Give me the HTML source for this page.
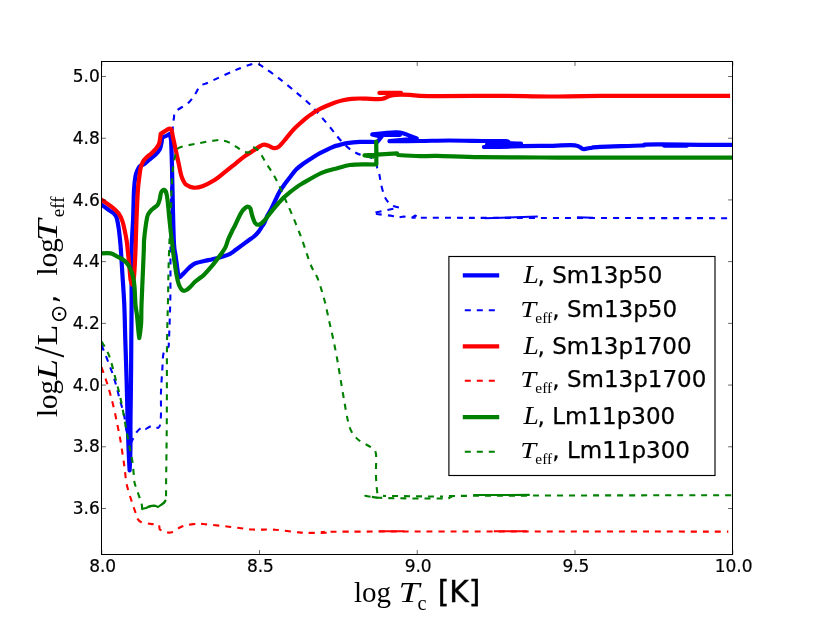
<!DOCTYPE html>
<html><head><meta charset="utf-8"><title>plot</title><style>html,body{margin:0;padding:0;background:#fff;}svg{display:block;}</style></head><body>
<svg width="814" height="617" viewBox="0 0 814 617">
<rect width="814" height="617" fill="#fff"/>
<defs><clipPath id="ax"><rect x="101.5" y="61.5" width="631.0" height="493.0"/></clipPath></defs>
<g clip-path="url(#ax)" fill="none" stroke-linejoin="round">
<path d="M101.50,204.60C101.50,204.60 104.78,207.05 106.80,208.50C108.82,209.95 111.98,211.85 113.60,213.30C115.22,214.75 115.68,214.92 116.50,217.20C117.32,219.48 117.93,223.43 118.50,227.00C119.07,230.57 119.50,234.77 119.90,238.60C120.30,242.43 120.48,244.07 120.90,250.00C121.32,255.93 121.83,265.03 122.40,274.20C122.97,283.37 123.82,294.03 124.30,305.00C124.78,315.97 124.92,327.50 125.30,340.00C125.68,352.50 126.22,366.67 126.60,380.00C126.98,393.33 127.27,408.33 127.60,420.00C127.93,431.67 128.27,441.58 128.60,450.00C128.93,458.42 129.60,470.50 129.60,470.50C129.60,470.50 130.25,458.42 130.40,450.00C130.55,441.58 130.40,431.67 130.50,420.00C130.60,408.33 130.87,393.33 131.00,380.00C131.13,366.67 131.20,352.50 131.30,340.00C131.40,327.50 131.55,320.00 131.60,305.00C131.65,290.00 131.35,264.30 131.60,250.00C131.85,235.70 132.70,229.20 133.10,219.20C133.50,209.20 133.60,197.20 134.00,190.00C134.40,182.80 134.92,179.33 135.50,176.00C136.08,172.67 136.75,171.67 137.50,170.00C138.25,168.33 139.00,166.92 140.00,166.00C141.00,165.08 142.00,165.50 143.50,164.50C145.00,163.50 147.03,161.62 149.00,160.00C150.97,158.38 153.50,156.57 155.30,154.80C157.10,153.03 158.75,151.48 159.80,149.40C160.85,147.32 161.17,144.23 161.60,142.30C162.03,140.37 161.67,138.85 162.40,137.80C163.13,136.75 164.82,136.63 166.00,136.00C167.18,135.37 169.50,134.00 169.50,134.00C169.50,134.00 170.62,135.67 171.00,140.00C171.38,144.33 171.58,153.33 171.80,160.00C172.02,166.67 171.97,166.67 172.30,180.00C172.63,193.33 173.27,227.50 173.80,240.00C174.33,252.50 174.97,250.67 175.50,255.00C176.03,259.33 176.53,262.58 177.00,266.00C177.47,269.42 177.88,273.62 178.30,275.50C178.72,277.38 178.97,277.30 179.50,277.30C180.03,277.30 180.75,276.22 181.50,275.50C182.25,274.78 182.90,274.13 184.00,273.00C185.10,271.87 186.73,269.98 188.10,268.70C189.47,267.42 190.85,266.25 192.20,265.30C193.55,264.35 194.18,263.72 196.20,263.00C198.22,262.28 201.60,261.63 204.30,261.00C207.00,260.37 209.70,259.83 212.40,259.20C215.10,258.57 217.57,258.10 220.50,257.20C223.43,256.30 227.38,255.08 230.00,253.80C232.62,252.52 233.18,251.67 236.20,249.50C239.22,247.33 245.13,242.97 248.10,240.80C251.07,238.63 252.27,237.98 254.00,236.50C255.73,235.02 257.27,233.43 258.50,231.90C259.73,230.37 260.42,228.82 261.40,227.30C262.38,225.78 263.38,224.77 264.40,222.80C265.42,220.83 266.28,217.97 267.50,215.50C268.72,213.03 269.80,211.75 271.70,208.00C273.60,204.25 276.88,196.75 278.90,193.00C280.92,189.25 281.85,188.25 283.80,185.50C285.75,182.75 288.60,179.10 290.60,176.50C292.60,173.90 294.28,171.57 295.80,169.90C297.32,168.23 298.28,167.65 299.70,166.50C301.12,165.35 302.18,164.47 304.30,163.00C306.42,161.53 309.78,159.33 312.40,157.70C315.02,156.07 316.50,155.03 320.00,153.20C323.50,151.37 330.07,148.08 333.40,146.70C336.73,145.32 337.73,145.50 340.00,144.90C342.27,144.30 343.67,143.60 347.00,143.10C350.33,142.60 355.43,142.08 360.00,141.90C364.57,141.72 371.52,141.98 374.40,142.00C377.28,142.02 377.30,142.00 377.30,142.00C377.30,142.00 381.50,136.80 381.50,136.80C381.50,136.80 372.30,134.40 372.30,134.40C372.30,134.40 389.88,132.60 395.00,132.40C400.12,132.20 399.38,132.18 403.00,133.20C406.62,134.22 416.70,138.50 416.70,138.50C416.70,138.50 389.50,141.20 389.50,141.20C389.50,141.20 410.08,141.12 420.00,141.00C429.92,140.88 438.33,140.50 449.00,140.50C459.67,140.50 474.50,140.88 484.00,141.00C493.50,141.12 501.67,140.87 506.00,141.20C510.33,141.53 507.50,142.62 510.00,143.00C512.50,143.38 521.00,143.50 521.00,143.50C521.00,143.50 484.00,147.00 484.00,147.00C484.00,147.00 493.67,146.93 500.00,146.80C506.33,146.67 515.33,146.35 522.00,146.20C528.67,146.05 535.33,145.97 540.00,145.90C544.67,145.83 544.17,145.90 550.00,145.80C555.83,145.70 569.50,144.77 575.00,145.30C580.50,145.83 580.50,148.55 583.00,149.00C585.50,149.45 587.17,148.35 590.00,148.00C592.83,147.65 591.50,147.32 600.00,146.90C608.50,146.48 633.50,145.88 641.00,145.50C648.50,145.12 641.83,144.78 645.00,144.60C648.17,144.42 650.83,144.37 660.00,144.40C669.17,144.43 687.67,144.73 700.00,144.80C712.33,144.87 734.00,144.80 734.00,144.80" stroke="#0000ff" stroke-width="4.2" stroke-linecap="square"/>
<path d="M101.50,345.00C101.50,345.00 103.25,349.47 104.30,352.10C105.35,354.73 106.13,356.33 107.80,360.80C109.47,365.27 112.35,372.63 114.30,378.90C116.25,385.17 117.87,392.30 119.50,398.40C121.13,404.50 122.90,409.83 124.10,415.50C125.30,421.17 125.80,427.32 126.70,432.40C127.60,437.48 129.50,446.00 129.50,446.00C129.50,446.00 133.10,438.50 133.10,438.50C133.10,438.50 134.88,434.28 136.40,432.40C137.92,430.52 140.70,427.75 142.20,427.20C143.70,426.65 143.78,429.32 145.40,429.10C147.02,428.88 149.73,426.12 151.90,425.90C154.07,425.68 157.00,428.23 158.40,427.80C159.80,427.37 159.87,425.77 160.30,423.30C160.73,420.83 160.88,418.23 161.00,413.00C161.12,407.77 160.78,399.10 161.00,391.90C161.22,384.70 161.87,376.28 162.30,369.80C162.73,363.32 162.53,356.88 163.60,353.00C164.67,349.12 168.70,346.50 168.70,346.50C168.70,346.50 170.00,316.08 170.30,300.00C170.60,283.92 170.38,266.67 170.50,250.00C170.62,233.33 170.75,215.00 171.00,200.00C171.25,185.00 171.75,170.83 172.00,160.00C172.25,149.17 172.33,140.83 172.50,135.00C172.67,129.17 172.77,127.80 173.00,125.00C173.23,122.20 173.42,120.47 173.90,118.20C174.38,115.93 173.47,113.98 175.90,111.40C178.33,108.82 185.27,105.62 188.50,102.70C191.73,99.78 193.35,96.67 195.30,93.90C197.25,91.13 197.92,88.05 200.20,86.10C202.48,84.15 203.65,84.63 209.00,82.20C214.35,79.77 226.82,73.93 232.30,71.50C237.78,69.07 239.00,68.73 241.90,67.60C244.80,66.47 247.10,65.33 249.70,64.70C252.30,64.07 254.90,63.15 257.50,63.80C260.10,64.45 261.73,66.18 265.30,68.60C268.87,71.02 274.03,74.57 278.90,78.30C283.77,82.03 289.97,87.27 294.50,91.00C299.03,94.73 302.87,97.78 306.10,100.70C309.33,103.62 311.30,105.73 313.90,108.50C316.50,111.27 318.78,113.90 321.70,117.30C324.62,120.70 328.48,125.33 331.40,128.90C334.32,132.47 336.27,135.45 339.20,138.70C342.13,141.95 346.08,145.98 349.00,148.40C351.92,150.82 354.35,152.00 356.70,153.20C359.05,154.40 360.55,154.80 363.10,155.60C365.65,156.40 369.85,156.93 372.00,158.00C374.15,159.07 375.12,160.28 376.00,162.00C376.88,163.72 376.75,166.27 377.30,168.30C377.85,170.33 378.65,171.43 379.30,174.20C379.95,176.97 380.30,181.15 381.20,184.90C382.10,188.65 383.47,193.75 384.70,196.70C385.93,199.65 387.13,201.05 388.60,202.60C390.07,204.15 391.77,205.18 393.50,206.00C395.23,206.82 399.00,207.50 399.00,207.50C399.00,207.50 372.90,213.00 372.90,213.00C372.90,213.00 376.73,213.90 380.00,214.40C383.27,214.90 389.50,215.48 392.50,216.00C395.50,216.52 398.00,217.50 398.00,217.50C398.00,217.50 404.00,216.50 404.00,216.50C404.00,216.50 412.00,217.50 412.00,217.50C412.00,217.50 415.00,215.50 415.00,215.50C415.00,215.50 419.00,217.60 419.00,217.60C419.00,217.60 392.50,217.70 445.00,217.80C497.50,217.90 734.00,218.20 734.00,218.20" stroke="#0000ff" stroke-width="2.1" stroke-dasharray="6,6"/>
<path d="M101.50,199.70C101.50,199.70 103.95,201.30 105.80,202.60C107.65,203.90 110.48,205.72 112.60,207.50C114.72,209.28 116.87,211.03 118.50,213.30C120.13,215.57 121.35,218.17 122.40,221.10C123.45,224.03 124.07,227.48 124.80,230.90C125.53,234.32 126.32,238.42 126.80,241.60C127.28,244.78 127.30,246.18 127.70,250.00C128.10,253.82 128.72,259.50 129.20,264.50C129.68,269.50 130.10,276.67 130.60,280.00C131.10,283.33 132.20,284.50 132.20,284.50C132.20,284.50 133.22,282.42 133.60,280.00C133.98,277.58 134.18,275.00 134.50,270.00C134.82,265.00 135.17,258.47 135.50,250.00C135.83,241.53 136.10,229.20 136.50,219.20C136.90,209.20 137.45,196.87 137.90,190.00C138.35,183.13 138.75,181.65 139.20,178.00C139.65,174.35 140.00,170.78 140.60,168.10C141.20,165.42 141.83,163.68 142.80,161.90C143.77,160.12 145.05,158.73 146.40,157.40C147.75,156.07 149.42,155.23 150.90,153.90C152.38,152.57 153.97,151.03 155.30,149.40C156.63,147.77 158.08,146.03 158.90,144.10C159.72,142.17 159.90,139.52 160.20,137.80C160.50,136.08 160.70,133.80 160.70,133.80C160.70,133.80 162.87,132.42 164.20,131.60C165.53,130.78 167.50,129.20 168.70,128.90C169.90,128.60 170.67,128.32 171.40,129.80C172.13,131.28 172.37,134.38 173.10,137.80C173.83,141.22 174.90,146.13 175.80,150.30C176.70,154.47 177.62,158.68 178.50,162.80C179.38,166.92 180.27,171.97 181.10,175.00C181.93,178.03 182.65,179.38 183.50,181.00C184.35,182.62 184.52,183.58 186.20,184.70C187.88,185.82 190.90,187.45 193.60,187.70C196.30,187.95 198.97,187.43 202.40,186.20C205.83,184.97 210.47,182.63 214.20,180.30C217.93,177.97 221.38,174.87 224.80,172.20C228.22,169.53 231.42,166.93 234.70,164.30C237.98,161.67 241.23,158.77 244.50,156.40C247.77,154.03 251.68,151.82 254.30,150.10C256.92,148.38 258.57,147.00 260.20,146.10C261.83,145.20 262.78,144.78 264.10,144.70C265.42,144.62 266.45,145.03 268.10,145.60C269.75,146.17 272.20,147.93 274.00,148.10C275.80,148.27 276.93,148.15 278.90,146.60C280.87,145.05 283.85,141.10 285.80,138.80C287.75,136.50 288.98,134.68 290.60,132.80C292.22,130.92 293.93,129.07 295.50,127.50C297.07,125.93 298.53,124.72 300.00,123.40C301.47,122.08 302.87,120.82 304.30,119.60C305.73,118.38 307.17,117.17 308.60,116.10C310.03,115.03 311.47,114.13 312.90,113.20C314.33,112.27 315.77,111.33 317.20,110.50C318.63,109.67 320.07,108.92 321.50,108.20C322.93,107.48 323.65,107.12 325.80,106.20C327.95,105.28 331.53,103.68 334.40,102.70C337.27,101.72 340.13,100.95 343.00,100.30C345.87,99.65 348.77,99.10 351.60,98.80C354.43,98.50 357.52,98.52 360.00,98.50C362.48,98.48 362.92,98.62 366.50,98.70C370.08,98.78 377.67,99.45 381.50,99.00C385.33,98.55 387.08,96.70 389.50,96.00C391.92,95.30 392.58,94.98 396.00,94.80C399.42,94.62 406.00,94.73 410.00,94.90C414.00,95.07 415.00,95.60 420.00,95.80C425.00,96.00 426.83,96.10 440.00,96.10C453.17,96.10 480.67,95.73 499.00,95.80C517.33,95.87 533.17,96.48 550.00,96.50C566.83,96.52 570.33,96.00 600.00,95.90C629.67,95.80 728.00,95.90 728.00,95.90" stroke="#ff0000" stroke-width="4.2" stroke-linecap="square"/>
<path d="M101.50,367.20C101.50,367.20 105.02,376.95 106.50,381.50C107.98,386.05 109.10,389.75 110.40,394.50C111.70,399.25 113.10,404.77 114.30,410.00C115.50,415.23 116.62,421.08 117.60,425.90C118.58,430.72 119.33,433.93 120.20,438.90C121.07,443.87 122.05,450.73 122.80,455.70C123.55,460.67 124.07,464.00 124.70,468.70C125.33,473.40 125.53,478.77 126.60,483.90C127.67,489.03 129.70,494.97 131.10,499.50C132.50,504.03 133.92,507.87 135.00,511.10C136.08,514.33 136.52,517.05 137.60,518.90C138.68,520.75 139.12,521.33 141.50,522.20C143.88,523.07 148.98,523.68 151.90,524.10C154.82,524.52 159.00,524.70 159.00,524.70C159.00,524.70 159.70,529.30 159.70,529.30C159.70,529.30 163.07,531.37 164.90,531.90C166.73,532.43 168.98,532.72 170.70,532.50C172.42,532.28 173.58,531.47 175.20,530.60C176.82,529.73 178.67,528.17 180.40,527.30C182.13,526.43 183.43,525.93 185.60,525.40C187.77,524.87 190.47,524.33 193.40,524.10C196.33,523.87 197.32,523.57 203.20,524.00C209.08,524.43 220.45,525.78 228.70,526.70C236.95,527.62 244.97,529.00 252.70,529.50C260.43,530.00 267.38,529.22 275.10,529.70C282.82,530.18 292.88,531.87 299.00,532.40C305.12,532.93 307.00,532.85 311.80,532.90C316.60,532.95 319.77,532.92 327.80,532.70C335.83,532.48 293.25,531.78 360.00,531.60C426.75,531.42 728.30,531.60 728.30,531.60" stroke="#ff0000" stroke-width="2.1" stroke-dasharray="6,6"/>
<polyline points="379.4,92.9 401.0,92.8" stroke="#ff0000" stroke-width="4.2" stroke-linecap="round"/>
<polyline points="487.0,144.6 519.0,144.8" stroke="#0000ff" stroke-width="4.2" stroke-linecap="round"/>
<polyline points="384.0,134.8 400.0,134.8" stroke="#0000ff" stroke-width="4.2" stroke-linecap="round"/>
<polyline points="664.0,145.6 687.0,145.6" stroke="#0000ff" stroke-width="4.2" stroke-linecap="round"/>
<polyline points="485.0,218.3 537.8,216.5" stroke="#0000ff" stroke-width="2.1"/>
<polyline points="577.0,217.2 593.0,217.8" stroke="#0000ff" stroke-width="2.1"/>
<polyline points="378.8,531.3 404.2,531.3" stroke="#ff0000" stroke-width="2.1"/>
<polyline points="493.8,531.3 527.0,531.3" stroke="#ff0000" stroke-width="2.1"/>
<path d="M101.50,253.30C101.50,253.30 108.52,252.98 110.70,253.30C112.88,253.62 112.82,254.32 114.60,255.20C116.38,256.08 119.45,257.38 121.40,258.60C123.35,259.82 124.83,260.88 126.30,262.50C127.77,264.12 129.07,265.87 130.20,268.30C131.33,270.73 132.38,274.02 133.10,277.10C133.82,280.18 134.10,282.15 134.50,286.80C134.90,291.45 135.08,300.23 135.50,305.00C135.92,309.77 136.50,310.90 137.00,315.40C137.50,319.90 138.12,328.23 138.50,332.00C138.88,335.77 139.30,338.00 139.30,338.00C139.30,338.00 139.88,334.68 140.20,332.00C140.52,329.32 140.98,326.40 141.20,321.90C141.42,317.40 141.23,312.95 141.50,305.00C141.77,297.05 142.42,283.37 142.80,274.20C143.18,265.03 143.58,255.70 143.80,250.00C144.02,244.30 143.80,243.88 144.10,240.00C144.40,236.12 145.03,230.70 145.60,226.70C146.17,222.70 146.70,218.60 147.50,216.00C148.30,213.40 149.27,212.48 150.40,211.10C151.53,209.72 153.08,208.75 154.30,207.70C155.52,206.65 156.80,206.17 157.70,204.80C158.60,203.43 159.13,201.55 159.70,199.50C160.27,197.45 160.38,194.12 161.10,192.50C161.82,190.88 163.18,189.88 164.00,189.80C164.82,189.72 165.42,190.38 166.00,192.00C166.58,193.62 167.02,195.83 167.50,199.50C167.98,203.17 168.42,209.15 168.90,214.00C169.38,218.85 169.92,224.27 170.40,228.60C170.88,232.93 171.28,235.60 171.80,240.00C172.32,244.40 172.97,250.83 173.50,255.00C174.03,259.17 174.52,261.77 175.00,265.00C175.48,268.23 175.78,271.20 176.40,274.40C177.02,277.60 177.93,281.80 178.70,284.20C179.47,286.60 180.20,287.70 181.00,288.80C181.80,289.90 182.58,290.60 183.50,290.80C184.42,291.00 185.43,290.60 186.50,290.00C187.57,289.40 188.48,288.57 189.90,287.20C191.32,285.83 193.43,283.25 195.00,281.80C196.57,280.35 197.75,279.73 199.30,278.50C200.85,277.27 202.12,276.58 204.30,274.40C206.48,272.22 209.70,268.68 212.40,265.40C215.10,262.12 218.33,257.70 220.50,254.70C222.67,251.70 224.15,249.85 225.40,247.40C226.65,244.95 226.92,242.65 228.00,240.00C229.08,237.35 230.73,233.92 231.90,231.50C233.07,229.08 233.70,228.17 235.00,225.50C236.30,222.83 238.45,217.95 239.70,215.50C240.95,213.05 241.65,212.00 242.50,210.80C243.35,209.60 243.97,209.00 244.80,208.30C245.63,207.60 246.58,206.60 247.50,206.60C248.42,206.60 249.50,206.73 250.30,208.30C251.10,209.87 251.47,213.50 252.30,216.00C253.13,218.50 254.15,221.87 255.30,223.30C256.45,224.73 257.75,224.98 259.20,224.60C260.65,224.22 261.57,223.67 264.00,221.00C266.43,218.33 270.55,212.47 273.80,208.60C277.05,204.73 280.80,200.53 283.50,197.80C286.20,195.07 288.08,193.77 290.00,192.20C291.92,190.63 292.95,189.85 295.00,188.40C297.05,186.95 297.85,186.10 302.30,183.50C306.75,180.90 315.87,175.35 321.70,172.80C327.53,170.25 332.62,169.50 337.30,168.20C341.98,166.90 345.25,165.65 349.80,165.00C354.35,164.35 360.17,164.38 364.60,164.30C369.03,164.22 376.40,164.50 376.40,164.50C376.40,164.50 376.20,141.50 376.20,141.50C376.20,141.50 376.50,157.00 376.50,157.00C376.50,157.00 364.50,155.30 364.50,155.30C364.50,155.30 397.00,153.30 397.00,153.30C397.00,153.30 398.00,155.00 398.00,155.00C398.00,155.00 413.50,156.05 420.00,156.20C426.50,156.35 427.00,155.73 437.00,155.90C447.00,156.07 462.83,156.93 480.00,157.20C497.17,157.47 520.00,157.42 540.00,157.50C560.00,157.58 567.67,157.67 600.00,157.70C632.33,157.73 734.00,157.70 734.00,157.70" stroke="#008000" stroke-width="4.2" stroke-linecap="square"/>
<path d="M101.50,341.50C101.50,341.50 106.75,349.37 109.10,355.60C111.45,361.83 113.65,371.55 115.60,378.90C117.55,386.25 119.17,392.08 120.80,399.70C122.43,407.32 124.20,418.07 125.40,424.60C126.60,431.13 127.15,434.37 128.00,438.90C128.85,443.43 129.75,447.92 130.50,451.80C131.25,455.68 131.95,458.32 132.50,462.20C133.05,466.08 133.48,471.82 133.80,475.10C134.12,478.38 134.08,480.00 134.40,481.90C134.72,483.80 134.95,484.22 135.70,486.50C136.45,488.78 137.93,492.80 138.90,495.60C139.87,498.40 140.95,501.03 141.50,503.30C142.05,505.57 142.20,509.20 142.20,509.20C142.20,509.20 143.08,508.45 144.70,507.90C146.32,507.35 149.62,506.23 151.90,505.90C154.18,505.57 156.45,506.33 158.40,505.90C160.35,505.47 162.32,504.37 163.60,503.30C164.88,502.23 166.10,499.50 166.10,499.50C166.10,499.50 165.98,496.45 166.10,483.20C166.22,469.95 166.65,443.03 166.80,420.00C166.95,396.97 166.80,365.00 167.00,345.00C167.20,325.00 167.75,312.50 168.00,300.00C168.25,287.50 168.25,280.00 168.50,270.00C168.75,260.00 169.10,249.17 169.50,240.00C169.90,230.83 170.57,223.33 170.90,215.00C171.23,206.67 171.15,197.83 171.50,190.00C171.85,182.17 172.25,174.17 173.00,168.00C173.75,161.83 174.87,156.43 176.00,153.00C177.13,149.57 176.25,148.98 179.80,147.40C183.35,145.82 191.10,144.70 197.30,143.50C203.50,142.30 212.73,140.70 217.00,140.20C221.27,139.70 220.78,140.08 222.90,140.50C225.02,140.92 227.73,141.85 229.70,142.70C231.67,143.55 233.05,144.53 234.70,145.60C236.35,146.67 237.97,148.03 239.60,149.10C241.23,150.17 242.87,151.43 244.50,152.00C246.13,152.57 249.40,152.50 249.40,152.50C249.40,152.50 252.30,146.60 252.30,146.60C252.30,146.60 255.82,148.28 257.30,149.60C258.78,150.92 259.73,152.22 261.20,154.50C262.67,156.78 264.30,160.35 266.10,163.30C267.90,166.25 270.03,168.92 272.00,172.20C273.97,175.48 275.78,178.68 277.90,183.00C280.02,187.32 282.27,192.67 284.70,198.10C287.13,203.53 289.90,209.45 292.50,215.60C295.10,221.75 298.12,229.27 300.30,235.00C302.48,240.73 304.07,245.53 305.60,250.00C307.13,254.47 308.20,258.37 309.50,261.80C310.80,265.23 312.10,267.98 313.40,270.60C314.70,273.22 315.98,274.38 317.30,277.50C318.62,280.62 319.98,285.03 321.30,289.30C322.62,293.57 323.90,297.85 325.20,303.10C326.50,308.35 327.78,314.90 329.10,320.80C330.42,326.70 331.78,332.28 333.10,338.50C334.42,344.72 335.75,351.28 337.00,358.10C338.25,364.92 339.38,372.20 340.60,379.40C341.82,386.60 343.08,394.42 344.30,401.30C345.52,408.18 346.68,415.63 347.90,420.70C349.12,425.77 349.77,428.45 351.60,431.70C353.43,434.95 355.67,437.58 358.90,440.20C362.13,442.82 368.17,445.18 371.00,447.40C373.83,449.62 375.08,449.03 375.90,453.50C376.72,457.97 375.70,467.92 375.90,474.20C376.10,480.48 376.65,487.23 377.10,491.20C377.55,495.17 378.60,498.00 378.60,498.00C378.60,498.00 365.30,495.80 365.30,495.80C365.30,495.80 371.97,497.55 385.00,498.00C398.03,498.45 432.53,498.62 443.50,498.50C454.47,498.38 445.88,497.75 450.80,497.30C455.72,496.85 425.80,496.15 473.00,495.80C520.20,495.45 734.00,495.20 734.00,495.20" stroke="#008000" stroke-width="2.1" stroke-dasharray="6,6"/>
<polyline points="473.3,495.0 529.7,494.9" stroke="#008000" stroke-width="2.1"/>
<polyline points="142.6,508.8 146.0,508.0 150.0,506.2 155.0,505.6 158.0,507.0 161.0,505.0 164.0,502.5 165.9,500.0" stroke="#008000" stroke-width="2.1"/>
<polyline points="383.0,495.9 443.0,496.6" stroke="#008000" stroke-width="2.1" stroke-dasharray="6,6" stroke-dashoffset="3"/>
</g>
<rect x="101.5" y="61.5" width="631.0" height="493.0" fill="none" stroke="#000" stroke-width="1"/>
<path d="M101.75,554.5v-4.4M101.75,61.5v4.4M259.5,554.5v-4.4M259.5,61.5v4.4M417.25,554.5v-4.4M417.25,61.5v4.4M575.0,554.5v-4.4M575.0,61.5v4.4M732.75,554.5v-4.4M732.75,61.5v4.4M101.5,508.50h4.4M732.5,508.50h-4.4M101.5,446.79h4.4M732.5,446.79h-4.4M101.5,385.07h4.4M732.5,385.07h-4.4M101.5,323.36h4.4M732.5,323.36h-4.4M101.5,261.64h4.4M732.5,261.64h-4.4M101.5,199.93h4.4M732.5,199.93h-4.4M101.5,138.22h4.4M732.5,138.22h-4.4M101.5,76.50h4.4M732.5,76.50h-4.4" stroke="#000" stroke-width="0.6" fill="none"/>
<g fill="#000">
<text x="102.65" y="571.50" font-family="DejaVu Sans, sans-serif" font-size="17" text-anchor="middle" stroke="#000" stroke-width="0.2">8.0</text>
<text x="260.40" y="571.50" font-family="DejaVu Sans, sans-serif" font-size="17" text-anchor="middle" stroke="#000" stroke-width="0.2">8.5</text>
<text x="418.15" y="571.50" font-family="DejaVu Sans, sans-serif" font-size="17" text-anchor="middle" stroke="#000" stroke-width="0.2">9.0</text>
<text x="575.90" y="571.50" font-family="DejaVu Sans, sans-serif" font-size="17" text-anchor="middle" stroke="#000" stroke-width="0.2">9.5</text>
<text x="733.65" y="571.50" font-family="DejaVu Sans, sans-serif" font-size="17" text-anchor="middle" stroke="#000" stroke-width="0.2">10.0</text>
<text x="99.80" y="514.20" font-family="DejaVu Sans, sans-serif" font-size="17" text-anchor="end" stroke="#000" stroke-width="0.2">3.6</text>
<text x="99.80" y="452.49" font-family="DejaVu Sans, sans-serif" font-size="17" text-anchor="end" stroke="#000" stroke-width="0.2">3.8</text>
<text x="99.80" y="390.77" font-family="DejaVu Sans, sans-serif" font-size="17" text-anchor="end" stroke="#000" stroke-width="0.2">4.0</text>
<text x="99.80" y="329.06" font-family="DejaVu Sans, sans-serif" font-size="17" text-anchor="end" stroke="#000" stroke-width="0.2">4.2</text>
<text x="99.80" y="267.34" font-family="DejaVu Sans, sans-serif" font-size="17" text-anchor="end" stroke="#000" stroke-width="0.2">4.4</text>
<text x="99.80" y="205.63" font-family="DejaVu Sans, sans-serif" font-size="17" text-anchor="end" stroke="#000" stroke-width="0.2">4.6</text>
<text x="99.80" y="143.92" font-family="DejaVu Sans, sans-serif" font-size="17" text-anchor="end" stroke="#000" stroke-width="0.2">4.8</text>
<text x="99.80" y="82.20" font-family="DejaVu Sans, sans-serif" font-size="17" text-anchor="end" stroke="#000" stroke-width="0.2">5.0</text>
<text x="354.00" y="602.30" font-family="Liberation Serif, serif" font-size="29">log</text>
<text transform="translate(398.60,602.30) scale(1.3,1.0)" font-family="Liberation Serif, serif" font-size="29" font-style="italic">T</text>
<text x="417.40" y="609.50" font-family="Liberation Serif, serif" font-size="20.3">c</text>
<text x="437.80" y="602.20" font-family="DejaVu Sans, sans-serif" font-size="29.6" stroke="#000" stroke-width="0.45">[K]</text>
<g transform="translate(56.8,417.4) rotate(-90)">
<text x="0.30" y="0.00" font-family="Liberation Serif, serif" font-size="29">log</text>
<text transform="translate(37.70,0.00) scale(1.29,1.0)" font-family="Liberation Serif, serif" font-size="29" font-style="italic">L</text>
<text transform="translate(59.80,7.60) scale(1.39,1.56)" font-family="Liberation Serif, serif" font-size="29">/</text>
<text transform="translate(72.00,0.00) scale(1.17,1.0)" font-family="Liberation Serif, serif" font-size="29">L</text>
<text x="94.50" y="9.30" font-family="DejaVu Sans, sans-serif" font-size="21.9">⊙</text>
<text x="113.70" y="0.00" font-family="DejaVu Sans, sans-serif" font-size="29">,</text>
<text x="142.00" y="0.00" font-family="Liberation Serif, serif" font-size="29">log</text>
<text transform="translate(176.20,0.00) scale(1.35,1.0)" font-family="Liberation Serif, serif" font-size="29" font-style="italic">T</text>
<text x="200.20" y="7.00" font-family="Liberation Serif, serif" font-size="19">eff</text>
</g>
</g>
<rect x="448.9" y="256.5" width="266.1" height="219.0" fill="#fff" stroke="#000" stroke-width="1.15"/>
<g fill="#000">
<line x1="464.9" y1="275.4" x2="497.1" y2="275.4" stroke="#0000ff" stroke-width="4.2" stroke-linecap="square"/>
<text transform="translate(523.40,282.60) scale(1.13,1.0)" font-family="Liberation Serif, serif" font-size="24.4" font-style="italic">L</text>
<text x="537.60" y="282.60" font-family="DejaVu Sans, sans-serif" font-size="23" stroke="#000" stroke-width="0.25">, Sm13p50</text>
<line x1="464.8" y1="310.2" x2="497.1" y2="310.2" stroke="#0000ff" stroke-width="2.1" stroke-dasharray="6,6"/>
<text transform="translate(520.20,316.80) scale(1.19,1.0)" font-family="Liberation Serif, serif" font-size="24" font-style="italic">T</text>
<text x="535.30" y="322.60" font-family="Liberation Serif, serif" font-size="15.4">eff</text>
<text x="552.30" y="316.80" font-family="DejaVu Sans, sans-serif" font-size="23" stroke="#000" stroke-width="0.25">, Sm13p50</text>
<line x1="464.9" y1="346.3" x2="497.1" y2="346.3" stroke="#ff0000" stroke-width="4.2" stroke-linecap="square"/>
<text transform="translate(523.40,353.50) scale(1.13,1.0)" font-family="Liberation Serif, serif" font-size="24.4" font-style="italic">L</text>
<text x="537.60" y="353.50" font-family="DejaVu Sans, sans-serif" font-size="23" stroke="#000" stroke-width="0.25">, Sm13p1700</text>
<line x1="464.8" y1="380.8" x2="497.1" y2="380.8" stroke="#ff0000" stroke-width="2.1" stroke-dasharray="6,6"/>
<text transform="translate(520.20,387.40) scale(1.19,1.0)" font-family="Liberation Serif, serif" font-size="24" font-style="italic">T</text>
<text x="535.30" y="393.20" font-family="Liberation Serif, serif" font-size="15.4">eff</text>
<text x="552.30" y="387.40" font-family="DejaVu Sans, sans-serif" font-size="23" stroke="#000" stroke-width="0.25">, Sm13p1700</text>
<line x1="464.9" y1="417.1" x2="497.1" y2="417.1" stroke="#008000" stroke-width="4.2" stroke-linecap="square"/>
<text transform="translate(523.40,424.30) scale(1.13,1.0)" font-family="Liberation Serif, serif" font-size="24.4" font-style="italic">L</text>
<text x="537.60" y="424.30" font-family="DejaVu Sans, sans-serif" font-size="23" stroke="#000" stroke-width="0.25">, Lm11p300</text>
<line x1="464.8" y1="451.8" x2="497.1" y2="451.8" stroke="#008000" stroke-width="2.1" stroke-dasharray="6,6"/>
<text transform="translate(520.20,458.40) scale(1.19,1.0)" font-family="Liberation Serif, serif" font-size="24" font-style="italic">T</text>
<text x="535.30" y="464.20" font-family="Liberation Serif, serif" font-size="15.4">eff</text>
<text x="552.30" y="458.40" font-family="DejaVu Sans, sans-serif" font-size="23" stroke="#000" stroke-width="0.25">, Lm11p300</text>
</g>
</svg>
</body></html>
